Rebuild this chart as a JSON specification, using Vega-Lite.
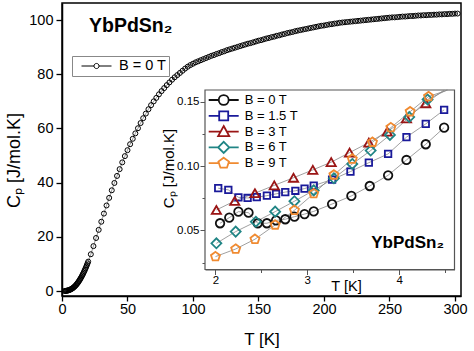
{
"$schema": "https://vega.github.io/schema/vega-lite/v6.json",
"background": "white",
"padding": {"left": 5, "top": 3, "right": 0, "bottom": 0},
"width": 399, "height": 293,
"view": {"stroke": "black", "strokeWidth": 1.5},
"config": {
  "font": "Liberation Sans",
  "axis": {"grid": false, "domainColor": "black", "tickColor": "black", "labelColor": "black", "titleColor": "black", "titleFontWeight": "normal", "labelFlush": false, "labelOverlap": false}
},
"datasets": {
"main": [
{"T":2,"C":0.05},{"T":2.5,"C":0.07},{"T":3,"C":0.1},{"T":3.5,"C":0.14},{"T":4,"C":0.19},{"T":4.5,"C":0.25},{"T":5,"C":0.32},{"T":5.5,"C":0.4},{"T":6,"C":0.5},{"T":6.5,"C":0.61},{"T":7,"C":0.74},{"T":7.5,"C":0.88},{"T":8,"C":1.04},{"T":8.5,"C":1.22},{"T":9,"C":1.42},{"T":9.5,"C":1.64},{"T":10,"C":1.88},{"T":10.5,"C":2.14},{"T":11,"C":2.42},{"T":11.5,"C":2.72},{"T":12,"C":3.04},{"T":12.5,"C":3.38},{"T":13,"C":3.74},{"T":13.5,"C":4.12},{"T":14,"C":4.52},{"T":14.5,"C":4.94},{"T":15,"C":5.38},{"T":15.5,"C":5.84},{"T":16,"C":6.32},{"T":16.5,"C":6.82},{"T":17,"C":7.34},{"T":17.5,"C":7.88},{"T":18,"C":8.44},{"T":18.5,"C":9.02},{"T":19,"C":9.62},{"T":19.5,"C":10.24},{"T":20,"C":10.88},
{"T":22,"C":13.6},{"T":24,"C":16.6},{"T":26,"C":19.6},{"T":28,"C":22.6},{"T":30,"C":25.6},{"T":32,"C":28.6},{"T":34,"C":31.6},{"T":36,"C":34.4},{"T":38,"C":37.2},{"T":40,"C":39.9},{"T":42,"C":42.5},{"T":44,"C":45.0},{"T":46,"C":47.5},{"T":48,"C":49.8},{"T":50,"C":52.0},{"T":52,"C":54.2},{"T":54,"C":56.2},{"T":56,"C":58.2},{"T":58,"C":60.1},{"T":60,"C":62.0},{"T":62,"C":63.8},{"T":64,"C":65.5},{"T":66,"C":67.1},{"T":68,"C":68.6},{"T":70,"C":70.0},{"T":72,"C":71.3},{"T":74,"C":72.6},{"T":76,"C":73.8},{"T":78,"C":74.9},{"T":80,"C":76.0},{"T":82,"C":77.0},{"T":84,"C":78.0},{"T":86,"C":78.9},{"T":88,"C":79.7},{"T":90,"C":80.5},{"T":92,"C":81.3},{"T":94,"C":82.1},{"T":96,"C":82.8},{"T":98,"C":83.4},
{"T":100,"C":83.9},{"T":102,"C":84.4},{"T":104,"C":84.8},{"T":106,"C":85.2},{"T":108,"C":85.6},{"T":110,"C":86.0},{"T":112,"C":86.4},{"T":114,"C":86.8},{"T":116,"C":87.1},{"T":118,"C":87.5},{"T":120,"C":87.8},{"T":122,"C":88.2},{"T":124,"C":88.5},{"T":126,"C":88.9},{"T":128,"C":89.2},{"T":130,"C":89.5},{"T":132,"C":89.8},{"T":134,"C":90.1},{"T":136,"C":90.4},{"T":138,"C":90.7},{"T":140,"C":91.0},{"T":142,"C":91.3},{"T":144,"C":91.5},{"T":146,"C":91.8},{"T":148,"C":92.1},{"T":150,"C":92.4},{"T":152,"C":92.6},{"T":154,"C":92.9},{"T":156,"C":93.2},{"T":158,"C":93.4},{"T":160,"C":93.7},{"T":162,"C":93.9},{"T":164,"C":94.2},{"T":166,"C":94.4},{"T":168,"C":94.7},{"T":170,"C":94.9},{"T":172,"C":95.2},{"T":174,"C":95.4},{"T":176,"C":95.6},{"T":178,"C":95.9},{"T":180,"C":96.1},{"T":182,"C":96.3},{"T":184,"C":96.5},{"T":186,"C":96.7},{"T":188,"C":96.9},{"T":190,"C":97.1},{"T":192,"C":97.3},{"T":194,"C":97.5},{"T":196,"C":97.7},{"T":198,"C":97.9},
{"T":200,"C":98.0},{"T":202,"C":98.2},{"T":204,"C":98.4},{"T":206,"C":98.5},{"T":208,"C":98.7},{"T":210,"C":98.8},{"T":212,"C":99.0},{"T":214,"C":99.1},{"T":216,"C":99.2},{"T":218,"C":99.3},{"T":220,"C":99.4},{"T":222,"C":99.5},{"T":224,"C":99.6},{"T":226,"C":99.7},{"T":228,"C":99.8},{"T":230,"C":99.9},{"T":232,"C":100.0},{"T":234,"C":100.1},{"T":236,"C":100.2},{"T":238,"C":100.3},{"T":240,"C":100.4},{"T":242,"C":100.5},{"T":244,"C":100.6},{"T":246,"C":100.7},{"T":248,"C":100.8},{"T":250,"C":100.9},{"T":252,"C":101.0},{"T":254,"C":101.0},{"T":256,"C":101.1},{"T":258,"C":101.2},{"T":260,"C":101.3},{"T":262,"C":101.3},{"T":264,"C":101.4},{"T":266,"C":101.5},{"T":268,"C":101.5},{"T":270,"C":101.6},{"T":272,"C":101.7},{"T":274,"C":101.7},{"T":276,"C":101.8},{"T":278,"C":101.8},{"T":280,"C":101.9},{"T":282,"C":101.9},{"T":284,"C":102.0},{"T":286,"C":102.0},{"T":288,"C":102.1},{"T":290,"C":102.1},{"T":292,"C":102.2},{"T":294,"C":102.2},{"T":296,"C":102.3},{"T":298,"C":102.3},{"T":300,"C":102.4},{"T":302,"C":102.4}
],
"inset": [
{"B":"B = 0 T","T":2.05,"C":0.0556},{"B":"B = 0 T","T":2.15,"C":0.0599},{"B":"B = 0 T","T":2.25,"C":0.0646},{"B":"B = 0 T","T":2.36,"C":0.0638},{"B":"B = 0 T","T":2.46,"C":0.0556},{"B":"B = 0 T","T":2.56,"C":0.0556},{"B":"B = 0 T","T":2.66,"C":0.0578},{"B":"B = 0 T","T":2.76,"C":0.0587},{"B":"B = 0 T","T":2.86,"C":0.0607},{"B":"B = 0 T","T":2.97,"C":0.0627},{"B":"B = 0 T","T":3.07,"C":0.0648},{"B":"B = 0 T","T":3.27,"C":0.0705},{"B":"B = 0 T","T":3.48,"C":0.0768},{"B":"B = 0 T","T":3.68,"C":0.0845},{"B":"B = 0 T","T":3.88,"C":0.0928},{"B":"B = 0 T","T":4.08,"C":0.1047},{"B":"B = 0 T","T":4.29,"C":0.1169},{"B":"B = 0 T","T":4.49,"C":0.1298},
{"B":"B = 1.5 T","T":2.03,"C":0.0828},{"B":"B = 1.5 T","T":2.14,"C":0.0815},{"B":"B = 1.5 T","T":2.25,"C":0.0757},{"B":"B = 1.5 T","T":2.35,"C":0.0752},{"B":"B = 1.5 T","T":2.45,"C":0.0758},{"B":"B = 1.5 T","T":2.56,"C":0.077},{"B":"B = 1.5 T","T":2.66,"C":0.0784},{"B":"B = 1.5 T","T":2.76,"C":0.0798},{"B":"B = 1.5 T","T":2.87,"C":0.0808},{"B":"B = 1.5 T","T":2.97,"C":0.0825},{"B":"B = 1.5 T","T":3.07,"C":0.0848},{"B":"B = 1.5 T","T":3.27,"C":0.0895},{"B":"B = 1.5 T","T":3.47,"C":0.0957},{"B":"B = 1.5 T","T":3.67,"C":0.1026},{"B":"B = 1.5 T","T":3.88,"C":0.1094},{"B":"B = 1.5 T","T":4.08,"C":0.1224},{"B":"B = 1.5 T","T":4.29,"C":0.1327},{"B":"B = 1.5 T","T":4.49,"C":0.1436},
{"B":"B = 3 T","T":2.01,"C":0.0659},{"B":"B = 3 T","T":2.21,"C":0.0729},{"B":"B = 3 T","T":2.43,"C":0.0789},{"B":"B = 3 T","T":2.64,"C":0.085},{"B":"B = 3 T","T":2.85,"C":0.0909},{"B":"B = 3 T","T":3.06,"C":0.097},{"B":"B = 3 T","T":3.26,"C":0.103},{"B":"B = 3 T","T":3.46,"C":0.1104},{"B":"B = 3 T","T":3.67,"C":0.1182},{"B":"B = 3 T","T":3.87,"C":0.1267},{"B":"B = 3 T","T":4.08,"C":0.137},{"B":"B = 3 T","T":4.29,"C":0.1487},{"B":"B = 3 T","T":4.49,"C":0.161},
{"B":"B = 6 T","T":2.01,"C":0.04},{"B":"B = 6 T","T":2.22,"C":0.0491},{"B":"B = 6 T","T":2.44,"C":0.0568},{"B":"B = 6 T","T":2.65,"C":0.0646},{"B":"B = 6 T","T":2.86,"C":0.0727},{"B":"B = 6 T","T":3.07,"C":0.0811},{"B":"B = 6 T","T":3.29,"C":0.0905},{"B":"B = 6 T","T":3.49,"C":0.1016},{"B":"B = 6 T","T":3.69,"C":0.112},{"B":"B = 6 T","T":3.9,"C":0.1241},{"B":"B = 6 T","T":4.11,"C":0.138},{"B":"B = 6 T","T":4.31,"C":0.1517},{"B":"B = 6 T","T":4.52,"C":0.165},
{"B":"B = 9 T","T":2.0,"C":0.0297},{"B":"B = 9 T","T":2.22,"C":0.0356},{"B":"B = 9 T","T":2.43,"C":0.0432},{"B":"B = 9 T","T":2.65,"C":0.0543},{"B":"B = 9 T","T":2.86,"C":0.0657},{"B":"B = 9 T","T":3.07,"C":0.0786},{"B":"B = 9 T","T":3.29,"C":0.0931},{"B":"B = 9 T","T":3.49,"C":0.1055},{"B":"B = 9 T","T":3.71,"C":0.1185},{"B":"B = 9 T","T":3.91,"C":0.1298},{"B":"B = 9 T","T":4.12,"C":0.1422},{"B":"B = 9 T","T":4.32,"C":0.1539},{"B":"B = 9 T","T":4.53,"C":0.166}
]
},
"resolve": {"scale": {"x": "independent", "y": "independent", "color": "independent", "shape": "independent", "size": "independent"}, "axis": {"x": "independent", "y": "independent"}, "legend": {"color": "independent", "shape": "independent", "size": "independent"}},
"layer": [
{
  "layer": [
    {"data": {"name": "main"}, "mark": {"type": "line", "color": "#666", "strokeWidth": 0.7, "clip": true},
     "encoding": {
       "x": {"field": "T", "type": "quantitative", "scale": {"domain": [0, 304.6], "nice": false, "zero": false},
             "axis": {"orient": "bottom", "values": [0,25,50,75,100,125,150,175,200,225,250,275,300], "labelExpr": "datum.value % 50 === 0 ? datum.label : ''",
                      "tickSize": {"condition": {"test": "datum.value % 50 === 0", "value": 5}, "value": 3}, "tickWidth": 1.3, "domainWidth": 1.5,
                      "labelFontSize": 14.5, "labelPadding": 1, "title": "T  [K]", "titleFontSize": 17, "titleY": 48.5, "titleBaseline": "alphabetic"}},
       "y": {"field": "C", "type": "quantitative", "scale": {"domain": [-1.8, 106.3], "nice": false, "zero": false},
             "axis": {"orient": "left", "values": [0,10,20,30,40,50,60,70,80,90,100], "labelExpr": "datum.value % 20 === 0 ? datum.label : ''",
                      "tickSize": {"condition": {"test": "datum.value % 20 === 0", "value": 6}, "value": 3.5}, "tickWidth": 1.3, "domainWidth": 1.5,
                      "labelFontSize": 14.5, "labelPadding": 3, "title": "Cₚ  [J/mol.K]", "titleFontSize": 18, "titleX": -43, "titleY": 157,
                      "titleBaseline": "alphabetic", "titleAngle": 270, "titleAlign": "center"}}
     }},
    {"data": {"name": "main"}, "mark": {"type": "point", "filled": false, "size": 25, "strokeWidth": 1, "opacity": 1, "clip": true},
     "encoding": {
       "x": {"field": "T", "type": "quantitative"},
       "y": {"field": "C", "type": "quantitative"},
       "color": {"datum": "B = 0 T", "type": "nominal", "scale": {"range": ["black"]},
                 "legend": {"title": null, "orient": "none", "legendX": 10, "legendY": 53, "padding": 2, "strokeColor": "#888", "fillColor": "white",
                            "labelFontSize": 14.5, "labelOffset": 7, "symbolOffset": 7, "symbolStrokeWidth": 1, "labelColor": "black",
                            "symbolType": "M-1,0H-0.17M0.17,0A0.17,0.17,0,1,1,-0.17,0A0.17,0.17,0,1,1,0.17,0H1", "symbolSize": 900, "clipHeight": 16, "symbolFillColor": "white"}}
     }},
    {"data": {"values": [{"label": "YbPdSn₂"}]}, "mark": {"type": "text", "fontSize": 19.5, "fontWeight": "bold", "align": "left", "baseline": "alphabetic", "color": "black"},
     "encoding": {"x": {"datum": 20.6}, "y": {"datum": 95.6}, "text": {"field": "label"}}}
  ]
},
{
  "resolve": {"scale": {"shape": "independent", "color": "independent", "size": "independent"}, "legend": {"shape": "independent", "color": "independent", "size": "independent"}},
  "layer": [
    {"data": {"values": [{"frame": 1}]}, "mark": {"type": "rect", "fill": "white", "stroke": "#555", "strokeWidth": 1.2},
     "encoding": {"x": {"datum": 1.886}, "x2": {"datum": 4.603}, "y": {"datum": 0.0197}, "y2": {"datum": 0.159}}},
    {"data": {"name": "inset"}, "mark": {"type": "line", "color": "#888", "strokeWidth": 0.8},
     "encoding": {
       "x": {"field": "T", "type": "quantitative", "scale": {"domain": [1.886, 4.603], "range": [143, 392.5], "nice": false, "zero": false},
             "axis": {"orient": "bottom", "offset": -26.5, "values": [2,2.5,3,3.5,4,4.5], "format": ".0f", "labelExpr": "datum.value % 1 === 0 ? datum.label : ''",
                      "tickSize": {"condition": {"test": "datum.value % 1 === 0", "value": 5}, "value": 3}, "domainColor": "#555", "tickColor": "#555",
                      "labelFontSize": 11.5, "labelPadding": 0, "title": "T  [K]", "titleFontSize": 14.5, "titleX": 284, "titleY": 20.5, "titleBaseline": "alphabetic"}},
       "y": {"field": "C", "type": "quantitative", "scale": {"domain": [0.0197, 0.159], "range": [266.5, 87], "clamp": true, "nice": false, "zero": false},
             "axis": {"orient": "left", "offset": -143, "values": [0.025,0.05,0.075,0.1,0.125,0.15], "format": ".2f", "labelExpr": "abs(datum.value*20 - round(datum.value*20)) < 0.001 ? datum.label : ''",
                      "tickSize": {"condition": {"test": "abs(datum.value*20 - round(datum.value*20)) < 0.001", "value": 5}, "value": 3}, "domainColor": "#555", "tickColor": "#555",
                      "labelFontSize": 11.5, "labelPadding": 1, "title": "Cₚ  [J/mol.K]", "titleFontSize": 15, "titleX": -32, "titleY": 165,
                      "titleBaseline": "alphabetic", "titleAngle": 270, "titleAlign": "center"}},
       "detail": {"field": "B", "type": "nominal"}
     }},
    {"data": {"name": "inset"}, "transform": [{"filter": "datum.C <= 0.159"}], "mark": {"type": "point", "filled": false, "strokeWidth": 1.8, "opacity": 1},
     "encoding": {
       "x": {"field": "T", "type": "quantitative"},
       "y": {"field": "C", "type": "quantitative"},
       "color": {"field": "B", "type": "nominal",
                 "scale": {"domain": ["B = 0 T","B = 1.5 T","B = 3 T","B = 6 T","B = 9 T"], "range": ["#111111","#1a1a9a","#9a1515","#208585","#f08a30"]},
                 "legend": null},
       "shape": {"field": "B", "type": "nominal",
                 "scale": {"domain": ["B = 0 T","B = 1.5 T","B = 3 T","B = 6 T","B = 9 T"], "range": ["circle","square","triangle-up","diamond","M0,-1L0.951,-0.309L0.588,0.809L-0.588,0.809L-0.951,-0.309Z"]},
                 "legend": null},
       "size": {"field": "B", "type": "ordinal",
                "scale": {"type": "ordinal", "domain": ["B = 0 T","B = 1.5 T","B = 3 T","B = 6 T","B = 9 T"], "range": [72,42,85,100,90]},
                "legend": null}
     }},
    {"data": {"name": "inset"}, "transform": [{"filter": "datum.T < 0"}], "mark": {"type": "point", "filled": false, "strokeWidth": 1.8, "opacity": 1},
     "encoding": {
       "x": {"field": "T", "type": "quantitative"},
       "y": {"field": "C", "type": "quantitative"},
       "color": {"field": "B", "type": "nominal",
                 "scale": {"domain": ["B = 0 T","B = 1.5 T","B = 3 T","B = 6 T","B = 9 T"], "range": ["#111111","#1a1a9a","#9a1515","#208585","#f08a30"]},
                 "legend": {"title": null, "orient": "none", "legendX": 145.7, "legendY": 89.5, "padding": 0, "labelFontSize": 13, "labelOffset": 5, "rowPadding": 0.8,
                            "symbolStrokeWidth": 1.8, "symbolSize": 900, "clipHeight": 15, "labelColor": "black"}},
       "shape": {"field": "B", "type": "nominal",
                 "scale": {"domain": ["B = 0 T","B = 1.5 T","B = 3 T","B = 6 T","B = 9 T"], "range": [
                   "M-1,0H-0.33M0.33,0A0.33,0.33,0,1,1,-0.33,0A0.33,0.33,0,1,1,0.33,0H1",
                   "M-1,0H-0.3M-0.3,-0.3H0.3V0.3H-0.3ZM0.3,0H1",
                   "M-1,0H-0.2M0,-0.37L0.37,0.3H-0.37ZM0.2,0H1",
                   "M-1,0H-0.37M-0.37,0L0,-0.37L0.37,0L0,0.37ZM0.37,0H1",
                   "M-1,0H-0.315M0,-0.37L0.352,-0.114L0.217,0.299L-0.217,0.299L-0.352,-0.114ZM0.315,0H1"]},
                 "legend": {"title": null, "orient": "none", "legendX": 145.7, "legendY": 89.5, "padding": 0, "labelFontSize": 13, "labelOffset": 5, "rowPadding": 0.8,
                            "symbolStrokeWidth": 1.8, "symbolSize": 900, "clipHeight": 15, "labelColor": "black"}}
     }},
    {"data": {"values": [{"label": "YbPdSn₂"}]}, "mark": {"type": "text", "fontSize": 17, "fontWeight": "bold", "align": "left", "baseline": "alphabetic", "color": "black"},
     "encoding": {"x": {"datum": 3.696}, "y": {"datum": 0.0364}, "text": {"field": "label"}}}
  ]
}
]
}
